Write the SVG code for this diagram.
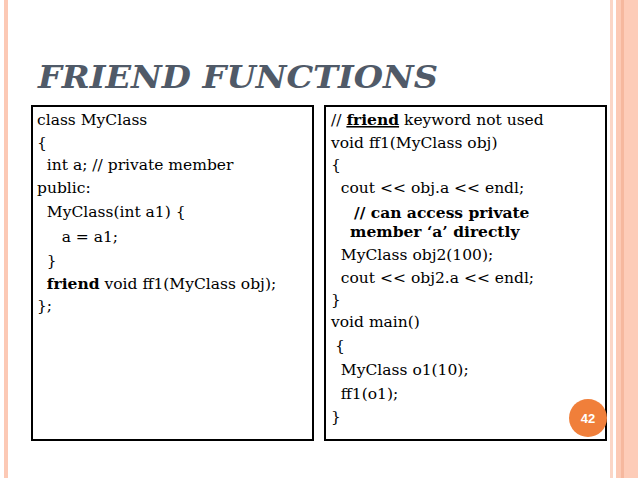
<svg xmlns="http://www.w3.org/2000/svg" width="638" height="478" viewBox="0 0 638 478">
<style>
.c{font-family:"DejaVu Serif",serif;font-size:15.5px;fill:#000}
.b{font-weight:bold}
.box{fill:#fff;stroke:#000;stroke-width:2}
</style>
<rect width="638" height="478" fill="#fff"/>
<rect x="4" y="0" width="4" height="478" fill="#fcc9b5"/>
<rect x="610" y="0" width="3" height="478" fill="#fbd6c6"/>
<rect x="616" y="0" width="5" height="478" fill="#fccab5"/>
<rect x="621" y="0" width="3" height="478" fill="#f6b89e"/>
<rect x="624" y="0" width="14" height="478" fill="#fdccb8"/>
<text x="38" y="88" font-family="DejaVu Serif,serif" font-size="32" font-weight="bold" font-style="italic" fill="#505a68" textLength="400" lengthAdjust="spacingAndGlyphs">FRIEND FUNCTIONS</text>
<g id="left">
<rect class="box" x="32" y="106" width="281" height="334"/>
<text class="c" x="37" y="125">class MyClass</text>
<text class="c" x="37" y="148">{</text>
<text class="c" x="37" y="170" xml:space="preserve">  int a; // private member</text>
<text class="c" x="37" y="193">public:</text>
<text class="c" x="37" y="217" xml:space="preserve">  MyClass(int a1) {</text>
<text class="c" x="37" y="242" xml:space="preserve">     a = a1;</text>
<text class="c" x="37" y="266" xml:space="preserve">  }</text>
<text class="c" x="37" y="289" xml:space="preserve">  <tspan class="b">friend</tspan> void ff1(MyClass obj);</text>
<text class="c" x="37" y="311">};</text>
</g>
<g id="right">
<rect class="box" x="325" y="106" width="281" height="334"/>
<text class="c" x="331" y="125">// <tspan class="b" text-decoration="underline">friend</tspan> keyword not used</text>
<text class="c" x="331" y="148">void ff1(MyClass obj)</text>
<text class="c" x="331" y="170">{</text>
<text class="c" x="331" y="193" xml:space="preserve">  cout &lt;&lt; obj.a &lt;&lt; endl;</text>
<text class="c b" x="354" y="218">// can access private</text>
<text class="c b" x="350" y="237">member ‘a’ directly</text>
<text class="c" x="331" y="260" xml:space="preserve">  MyClass obj2(100);</text>
<text class="c" x="331" y="283" xml:space="preserve">  cout &lt;&lt; obj2.a &lt;&lt; endl;</text>
<text class="c" x="331" y="305">}</text>
<text class="c" x="331" y="327">void main()</text>
<text class="c" x="335" y="351">{</text>
<text class="c" x="331" y="375" xml:space="preserve">  MyClass o1(10);</text>
<text class="c" x="331" y="399" xml:space="preserve">  ff1(o1);</text>
<text class="c" x="331" y="422">}</text>
</g>
<g id="page">
<circle cx="588" cy="418" r="19" fill="#f07f3a"/>
<text x="588" y="423" text-anchor="middle" font-family="Liberation Sans,sans-serif" font-size="13" font-weight="bold" fill="#fff">42</text>
</g>
</svg>
